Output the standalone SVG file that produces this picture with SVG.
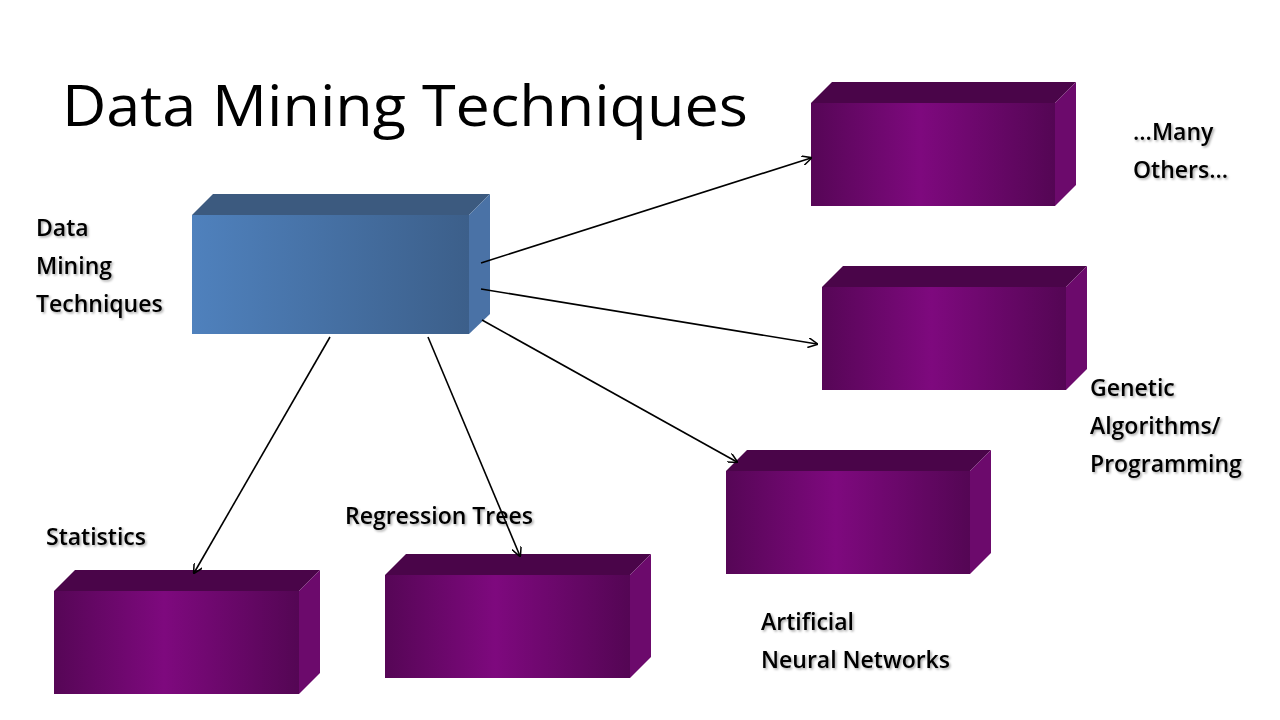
<svg xmlns="http://www.w3.org/2000/svg" width="1280" height="720" viewBox="0 0 1280 720">
<defs>
<linearGradient id="pf" x1="0" x2="1" y1="0" y2="0">
<stop offset="0" stop-color="#560656"/><stop offset="0.45" stop-color="#7e097e"/><stop offset="1" stop-color="#540654"/>
</linearGradient>
<linearGradient id="bf" x1="0" x2="1" y1="0" y2="0">
<stop offset="0" stop-color="#4f81bd"/><stop offset="1" stop-color="#3c5f8a"/>
</linearGradient>
<filter id="sh" x="-5%" y="-5%" width="110%" height="120%"><feDropShadow dx="1.5" dy="1.5" stdDeviation="1" flood-color="#000" flood-opacity="0.35"/></filter>
<marker id="ah" viewBox="0 0 10 10" refX="9" refY="5" markerWidth="10" markerHeight="10" markerUnits="userSpaceOnUse" orient="auto"><path d="M0,0 L10,5 L0,10" fill="none" stroke="#000" stroke-width="1.5"/></marker>
</defs>
<style>
.lbl{font-family:"Open Sans","Liberation Sans",sans-serif;font-weight:600;font-size:23px;fill:#000;filter:url(#sh)}
.top{fill:#4a0549}.side{fill:#6c0a6c}
.c{stroke:#000;stroke-width:1.6;fill:none;marker-end:url(#ah)}
</style>
<rect width="1280" height="720" fill="#fff"/>
<text x="62" y="126" font-family="'Open Sans','Liberation Sans',sans-serif" font-size="56" textLength="686" lengthAdjust="spacingAndGlyphs">Data Mining Techniques</text>
<g id="n-root">
<path d="M192,215 L213,194 L490,194 L469,215Z" fill="#3c5a7f"/>
<path d="M469,215 L490,194 L490,314 L469,334Z" fill="#4a72a6"/>
<rect x="192" y="215" width="277" height="119" fill="url(#bf)"/>
<text class="lbl"><tspan x="36" y="236">Data</tspan><tspan x="36" y="274">Mining</tspan><tspan x="36" y="312">Techniques</tspan></text>
</g>
<g id="n-stat">
<path d="M54,591 L75,570 L320,570 L299,591Z" class="top"/><path d="M299,591 L320,570 L320,673 L299,694Z" class="side"/>
<rect x="54" y="591" width="245" height="103" fill="url(#pf)"/>
<text class="lbl" x="46" y="545">Statistics</text>
</g>
<g id="n-reg">
<path d="M385,575 L406,554 L651,554 L630,575Z" class="top"/><path d="M630,575 L651,554 L651,657 L630,678Z" class="side"/>
<rect x="385" y="575" width="245" height="103" fill="url(#pf)"/>
<text class="lbl" x="345" y="524">Regression Trees</text>
</g>
<g id="n-ann">
<path d="M726,471 L747,450 L991,450 L970,471Z" class="top"/><path d="M970,471 L991,450 L991,553 L970,574Z" class="side"/>
<rect x="726" y="471" width="244" height="103" fill="url(#pf)"/>
<text class="lbl"><tspan x="761" y="630">Artificial</tspan><tspan x="761" y="668">Neural Networks</tspan></text>
</g>
<g id="n-gen">
<path d="M822,287 L843,266 L1087,266 L1066,287Z" class="top"/><path d="M1066,287 L1087,266 L1087,369 L1066,390Z" class="side"/>
<rect x="822" y="287" width="244" height="103" fill="url(#pf)"/>
<text class="lbl"><tspan x="1090" y="396">Genetic</tspan><tspan x="1090" y="434">Algorithms/</tspan><tspan x="1090" y="472">Programming</tspan></text>
</g>
<g id="n-other">
<path d="M811,103 L832,82 L1076,82 L1055,103Z" class="top"/><path d="M1055,103 L1076,82 L1076,185 L1055,206Z" class="side"/>
<rect x="811" y="103" width="244" height="103" fill="url(#pf)"/>
<text class="lbl"><tspan x="1133" y="140">...Many</tspan><tspan x="1133" y="178">Others...</tspan></text>
</g>
<g id="connectors">
<line class="c" x1="481" y1="263" x2="811" y2="158"/>
<line class="c" x1="481" y1="289" x2="817" y2="344"/>
<line class="c" x1="482" y1="320" x2="737" y2="462"/>
<line class="c" x1="330" y1="337" x2="194" y2="573"/>
<line class="c" x1="428" y1="337" x2="520" y2="556"/>
</g>
</svg>
